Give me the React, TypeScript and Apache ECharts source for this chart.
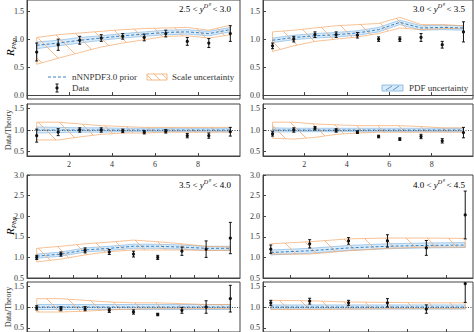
import { useEffect, useRef } from 'react';
import * as echarts from 'echarts';

// ---------- bins ----------
const xTop = [0.5, 1.5, 2.5, 3.5, 4.5, 5.5, 6.5, 7.5, 8.5, 9.5];
const xC = [0.5, 1.5, 2.5, 3.5, 4.5, 5.5, 6.5, 7.5, 8.5];
const xD = [0.5, 1.5, 2.5, 3.5, 4.5, 5.5];

// ---------- panel A: 2.5 < y < 3.0 ----------
const aData = [0.77, 0.9, 0.98, 1.02, 1.05, 1.03, 1.1, 0.96, 0.93, 1.1];
const aErr = [0.16, 0.1, 0.07, 0.06, 0.05, 0.06, 0.06, 0.07, 0.08, 0.14];
const aTh = [0.89, 0.93, 0.98, 1.02, 1.06, 1.09, 1.12, 1.13, 1.1, 1.17];
const aPdf = [0.06, 0.05, 0.05, 0.04, 0.04, 0.04, 0.04, 0.04, 0.04, 0.04];
const aUp = [1.03, 1.08, 1.11, 1.14, 1.17, 1.19, 1.2, 1.21, 1.16, 1.25];
const aDn = [0.55, 0.66, 0.76, 0.86, 0.93, 0.99, 1.05, 1.06, 1.02, 1.08];
const aRData = [0.87, 0.95, 1.0, 1.0, 0.98, 0.95, 0.97, 0.87, 0.87, 0.96];
const aRErr = [0.15, 0.08, 0.05, 0.05, 0.04, 0.04, 0.04, 0.05, 0.06, 0.1];
const aRUp = [1.18, 1.18, 1.14, 1.1, 1.08, 1.06, 1.06, 1.06, 1.06, 1.06];
const aRDn = [0.77, 0.77, 0.84, 0.9, 0.93, 0.93, 0.95, 0.95, 0.95, 0.95];
const aRPdf = [0.07, 0.06, 0.05, 0.05, 0.04, 0.04, 0.04, 0.04, 0.04, 0.04];

// ---------- panel B: 3.0 < y < 3.5 ----------
const bData = [0.88, 1.0, 1.08, 1.08, 1.07, 1.0, 1.0, 1.03, 0.9, 1.13];
const bErr = [0.05, 0.05, 0.05, 0.05, 0.05, 0.04, 0.04, 0.07, 0.06, 0.18];
const bTh = [0.98, 1.03, 1.06, 1.08, 1.11, 1.17, 1.3, 1.2, 1.21, 1.2];
const bPdf = [0.04, 0.04, 0.04, 0.04, 0.04, 0.04, 0.04, 0.04, 0.04, 0.04];
const bUp = [1.13, 1.16, 1.2, 1.24, 1.26, 1.28, 1.39, 1.26, 1.26, 1.24];
const bDn = [0.78, 0.88, 0.96, 1.0, 1.04, 1.1, 1.2, 1.17, 1.19, 1.19];
const bRData = [0.91, 1.0, 1.04, 0.99, 0.95, 0.85, 0.79, 0.85, 0.75, 0.94];
const bRErr = [0.05, 0.05, 0.04, 0.04, 0.03, 0.03, 0.03, 0.05, 0.05, 0.12];
const bRUp = [1.18, 1.18, 1.14, 1.12, 1.1, 1.1, 1.1, 1.08, 1.05, 1.05];
const bRDn = [0.81, 0.79, 0.83, 0.9, 0.93, 0.95, 0.95, 0.95, 0.95, 0.95];
const bRPdf = [0.05, 0.04, 0.04, 0.04, 0.04, 0.04, 0.04, 0.04, 0.04, 0.04];

// ---------- panel C: 3.5 < y < 4.0 ----------
const cData = [1.0, 1.08, 1.17, 1.13, 1.08, 1.0, 1.15, 1.2, 1.47];
const cErr = [0.05, 0.05, 0.06, 0.06, 0.07, 0.05, 0.1, 0.2, 0.38];
const cTh = [1.03, 1.08, 1.18, 1.22, 1.27, 1.27, 1.25, 1.22, 1.22];
const cPdf = [0.05, 0.05, 0.05, 0.05, 0.05, 0.05, 0.05, 0.05, 0.05];
const cUp = [1.22, 1.27, 1.33, 1.37, 1.42, 1.38, 1.33, 1.27, 1.25];
const cDn = [0.89, 0.96, 1.06, 1.14, 1.18, 1.18, 1.18, 1.17, 1.17];
const cRData = [0.98, 0.96, 0.96, 0.92, 0.88, 0.82, 0.92, 1.0, 1.2];
const cRErr = [0.05, 0.05, 0.05, 0.05, 0.05, 0.03, 0.07, 0.15, 0.32];
const cRUp = [1.2, 1.2, 1.16, 1.12, 1.1, 1.1, 1.08, 1.06, 1.06];
const cRDn = [0.88, 0.88, 0.9, 0.93, 0.95, 0.96, 0.96, 0.96, 0.96];
const cRPdf = [0.06, 0.06, 0.06, 0.06, 0.06, 0.06, 0.06, 0.06, 0.06];

// ---------- panel D: 4.0 < y < 4.5 ----------
const dData = [1.2, 1.33, 1.4, 1.4, 1.23, 2.03];
const dErr = [0.1, 0.1, 0.08, 0.15, 0.18, 0.58];
const dTh = [1.12, 1.16, 1.23, 1.27, 1.29, 1.3];
const dPdf = [0.06, 0.06, 0.06, 0.06, 0.06, 0.06];
const dUp = [1.33, 1.38, 1.45, 1.47, 1.47, 1.46];
const dDn = [1.08, 1.08, 1.16, 1.22, 1.25, 1.25];
const dRData = [1.1, 1.14, 1.1, 1.1, 0.95, 1.56];
const dRErr = [0.06, 0.07, 0.06, 0.1, 0.1, 0.45];
const dRUp = [1.16, 1.15, 1.12, 1.11, 1.1, 1.1];
const dRDn = [0.94, 0.94, 0.95, 0.96, 0.96, 0.96];
const dRPdf = [0.05, 0.05, 0.05, 0.05, 0.05, 0.05];

// ---------- labels / ticks ----------
const panelRanges = [
  ['2.5', '3.0'],
  ['3.0', '3.5'],
  ['3.5', '4.0'],
  ['4.0', '4.5'],
];
const legendNames = ['nNNPDF3.0 prior', 'Data', 'Scale uncertainty', 'PDF uncertainty'];
const yTicksTop = [0, 0.5, 1.0, 1.5];
const yTicksBottom = [0.5, 1.0, 1.5, 2.0, 2.5, 3.0];
const yTicksRatio = [0.5, 1.0, 1.5];
const xTicksTop = [2, 4, 6, 8];
const xTicksC = [1, 2, 3, 4, 5, 6, 7, 8];
const xTicksD = [1, 2, 3, 4, 5];

const FONT = 'Liberation Serif';
const TXT = '#333';
const ORANGE = '#f6b27a';
const ORANGE_EDGE = '#f4a868';
const BLUE = '#3a82c4';
const BLUEFILL = 'rgba(120,180,230,0.28)';
const BLUEEDGE = '#79b0e0';

function makeHatch(color: string, size: number, width: number) {
  const c = document.createElement('canvas');
  c.width = size;
  c.height = size;
  const g = c.getContext('2d')!;
  g.strokeStyle = color;
  g.lineWidth = width;
  g.beginPath();
  g.moveTo(-2, -2);
  g.lineTo(size + 2, size + 2);
  g.moveTo(-3, size - 3);
  g.lineTo(3, size + 3);
  g.moveTo(size - 3, -3);
  g.lineTo(size + 3, 3);
  g.stroke();
  return { image: c, repeat: 'repeat', imageWidth: size, imageHeight: size } as any;
}

export default function App() {
  const ref = useRef<HTMLDivElement>(null);

  useEffect(() => {
    if (!ref.current) return;
    const chart = echarts.init(ref.current, null, { renderer: 'svg' });
    const hatch = makeHatch(ORANGE, 21, 0.9);

    const grids = [
      { left: 27, top: -5, width: 213, height: 104 },
      { left: 27, top: 104, width: 213, height: 52 },
      { left: 263, top: -5, width: 210, height: 104 },
      { left: 263, top: 104, width: 210, height: 52 },
      { left: 27, top: 175, width: 213, height: 103 },
      { left: 27, top: 282, width: 213, height: 50 },
      { left: 263, top: 175, width: 210, height: 103 },
      { left: 263, top: 282, width: 210, height: 50 },
    ].map((g) => ({ ...g, show: true, borderColor: '#444', borderWidth: 1, backgroundColor: 'transparent' }));

    const yRanges: [number, number][] = [
      [-0.07, 1.7], [0.4, 1.6], [-0.07, 1.7], [0.4, 1.6],
      [0.5, 3.0], [0.4, 1.6], [0.5, 3.0], [0.4, 1.6],
    ];
    const xRanges: [number, number][] = [
      [0.05, 9.95], [0.05, 9.95], [0.05, 9.95], [0.05, 9.95],
      [0.1, 8.9], [0.1, 8.9], [0.3, 5.7], [0.3, 5.7],
    ];
    const xTickSets = [xTicksTop, xTicksTop, xTicksTop, xTicksTop, xTicksC, xTicksC, xTicksD, xTicksD];
    const yTickSets = [yTicksTop, yTicksRatio, yTicksTop, yTicksRatio, yTicksBottom, yTicksRatio, yTicksBottom, yTicksRatio];
    const showXLabel = [false, true, false, true, false, false, false, false];

    const xAxes = grids.map((_, i) => ({
      type: 'value', gridIndex: i, min: xRanges[i][0], max: xRanges[i][1],
      axisLine: { show: true, lineStyle: { color: '#444', width: 1 } },
      splitLine: { show: false },
      axisTick: { show: true, inside: true, length: 3, customValues: xTickSets[i], lineStyle: { color: '#444' } },
      axisLabel: { show: showXLabel[i], customValues: xTickSets[i], fontSize: 8, color: TXT, fontFamily: FONT, margin: 4 },
    }));
    const yAxes = grids.map((_, i) => ({
      type: 'value', gridIndex: i, min: yRanges[i][0], max: yRanges[i][1],
      axisLine: { show: true, lineStyle: { color: '#444', width: 1 } },
      splitLine: { show: false },
      axisTick: { show: true, inside: true, length: 3, customValues: yTickSets[i], lineStyle: { color: '#444' } },
      axisLabel: {
        show: true, customValues: yTickSets[i], fontSize: 8, color: TXT, fontFamily: FONT, margin: 3,
        formatter: (v: number) => v.toFixed(1),
      },
    }));

    const band = (gi: number, xs: number[], lo: number[], hi: number[], style: any, z: number) => ({
      type: 'custom', xAxisIndex: gi, yAxisIndex: gi, z, silent: true, clip: true,
      data: xs.map((x, i) => [x, lo[i], hi[i]]),
      encode: { x: 0, y: [1, 2] },
      renderItem: (params: any, api: any) => {
        if (params.dataIndex !== 0) return null;
        const top = xs.map((x, i) => api.coord([x, hi[i]]));
        const bot = xs.map((x, i) => api.coord([x, lo[i]])).reverse();
        return { type: 'polygon', shape: { points: top.concat(bot) }, style };
      },
    });

    const errBars = (gi: number, xs: number[], v: number[], e: number[]) => {
      const [yMin, yMax] = yRanges[gi];
      return {
        type: 'custom', xAxisIndex: gi, yAxisIndex: gi, z: 10, silent: true, clip: true,
        data: xs.map((x, i) => [x, v[i], e[i]]),
        encode: { x: 0, y: 1 },
        renderItem: (_p: any, api: any) => {
          const x = api.value(0), y = api.value(1), er = api.value(2);
          const c = api.coord([x, y]);
          const t = api.coord([x, Math.min(y + er, yMax)]);
          const b = api.coord([x, Math.max(y - er, yMin)]);
          const st = { stroke: '#111', lineWidth: 1 };
          const children: any[] = [
            { type: 'line', shape: { x1: c[0], y1: t[1], x2: c[0], y2: b[1] }, style: st },
          ];
          if (y + er <= yMax) children.push({ type: 'line', shape: { x1: c[0] - 1.5, y1: t[1], x2: c[0] + 1.5, y2: t[1] }, style: st });
          if (y - er >= yMin) children.push({ type: 'line', shape: { x1: c[0] - 1.5, y1: b[1], x2: c[0] + 1.5, y2: b[1] }, style: st });
          if (y <= yMax && y >= yMin) children.push({ type: 'circle', shape: { cx: c[0], cy: c[1], r: 1.6 }, style: { fill: '#111' } });
          return { type: 'group', children };
        },
      };
    };

    const central = (gi: number, xs: number[], v: number[], refLine: boolean) => ({
      type: 'line', xAxisIndex: gi, yAxisIndex: gi, z: 6, silent: true,
      data: xs.map((x, i) => [x, v[i]]),
      showSymbol: false, symbol: 'none',
      lineStyle: { color: BLUE, width: 1, type: [3, 2] },
      markLine: refLine
        ? {
            silent: true, symbol: ['none', 'none'], label: { show: false },
            lineStyle: { color: '#222', width: 0.8, type: [1, 1.5] },
            data: [{ yAxis: 1 }],
          }
        : undefined,
    });

    const pdfStyle = { fill: BLUEFILL, stroke: BLUEEDGE, lineWidth: 0.6 };
    const scaleStyle = { fill: hatch, stroke: ORANGE_EDGE, lineWidth: 0.7 };

    const series: any[] = [];
    const addMain = (gi: number, xs: number[], th: number[], pdf: number[], up: number[], dn: number[], d: number[], e: number[]) => {
      series.push(band(gi, xs, th.map((t, i) => t - pdf[i]), th.map((t, i) => t + pdf[i]), pdfStyle, 2));
      series.push(band(gi, xs, dn, up, scaleStyle, 4));
      series.push(central(gi, xs, th, false));
      series.push(errBars(gi, xs, d, e));
    };
    const addRatio = (gi: number, xs: number[], pdf: number[], up: number[], dn: number[], d: number[], e: number[]) => {
      series.push(band(gi, xs, pdf.map((p) => 1 - p), pdf.map((p) => 1 + p), pdfStyle, 2));
      series.push(band(gi, xs, dn, up, scaleStyle, 4));
      series.push(central(gi, xs, xs.map(() => 1), true));
      series.push(errBars(gi, xs, d, e));
    };

    addMain(0, xTop, aTh, aPdf, aUp, aDn, aData, aErr);
    addRatio(1, xTop, aRPdf, aRUp, aRDn, aRData, aRErr);
    addMain(2, xTop, bTh, bPdf, bUp, bDn, bData, bErr);
    addRatio(3, xTop, bRPdf, bRUp, bRDn, bRData, bRErr);
    addMain(4, xC, cTh, cPdf, cUp, cDn, cData, cErr);
    addRatio(5, xC, cRPdf, cRUp, cRDn, cRData, cRErr);
    addMain(6, xD, dTh, dPdf, dUp, dDn, dData, dErr);
    addRatio(7, xD, dRPdf, dRUp, dRDn, dRData, dRErr);

    const rich = {
      n: { fontSize: 9, fontFamily: FONT, color: TXT },
      i: { fontSize: 9, fontFamily: FONT, fontStyle: 'italic', color: TXT },
      s: { fontSize: 6, fontFamily: FONT, fontStyle: 'italic', color: TXT, verticalAlign: 'top', lineHeight: 12 },
    };
    const labelPos = [
      [231, 9], [465, 9], [231, 185], [465, 185],
    ];
    const graphics: any[] = panelRanges.map((r, k) => ({
      type: 'text', x: labelPos[k][0], y: labelPos[k][1], z: 20,
      style: {
        text: `{n|${r[0]} < }{i|y}{s|D⁰}{n| < ${r[1]}}`,
        rich, align: 'right', verticalAlign: 'middle',
      },
    }));

    // y-axis titles
    const yTitleRich = {
      r: { fontSize: 11, fontFamily: FONT, fontStyle: 'italic', color: TXT, lineHeight: 14 },
      p: { fontSize: 7, fontFamily: FONT, fontStyle: 'italic', color: TXT, verticalAlign: 'bottom', lineHeight: 14 },
    };
    [47, 226].forEach((yc) => {
      graphics.push({
        type: 'text', x: 10, y: yc, rotation: Math.PI / 2, z: 20,
        style: { text: '{r|R}{p|Pbp}', rich: yTitleRich, align: 'center', verticalAlign: 'middle' },
      });
    });
    [130, 307].forEach((yc) => {
      graphics.push({
        type: 'text', x: 8, y: yc, rotation: Math.PI / 2, z: 20,
        style: { text: 'Data/Theory', fontSize: 8, fontFamily: FONT, fill: TXT, align: 'center', verticalAlign: 'middle' },
      });
    });

    // legend (top-left panel)
    const lt = { fontSize: 9, fontFamily: FONT, fill: TXT, align: 'left', verticalAlign: 'middle' };
    graphics.push(
      { type: 'line', z: 20, shape: { x1: 48, y1: 77, x2: 68, y2: 77 }, style: { stroke: BLUE, lineWidth: 1, lineDash: [3, 2] } },
      { type: 'text', z: 20, x: 72, y: 77, style: { ...lt, text: legendNames[0] } },
      { type: 'line', z: 20, shape: { x1: 57, y1: 84, x2: 57, y2: 92 }, style: { stroke: '#111', lineWidth: 1 } },
      { type: 'line', z: 20, shape: { x1: 55.5, y1: 84, x2: 58.5, y2: 84 }, style: { stroke: '#111', lineWidth: 1 } },
      { type: 'line', z: 20, shape: { x1: 55.5, y1: 92, x2: 58.5, y2: 92 }, style: { stroke: '#111', lineWidth: 1 } },
      { type: 'circle', z: 20, shape: { cx: 57, cy: 88, r: 1.6 }, style: { fill: '#111' } },
      { type: 'text', z: 20, x: 72, y: 88, style: { ...lt, text: legendNames[1] } },
      { type: 'rect', z: 20, shape: { x: 147, y: 74, width: 20, height: 6 }, style: { fill: makeHatch(ORANGE, 8, 0.9), stroke: ORANGE_EDGE, lineWidth: 0.8 } },
      { type: 'text', z: 20, x: 172, y: 77, style: { ...lt, text: legendNames[2] } },
      { type: 'rect', z: 20, shape: { x: 382, y: 85, width: 21, height: 6 }, style: { fill: BLUEFILL, stroke: BLUEEDGE, lineWidth: 0.8 } },
      { type: 'line', z: 20, shape: { x1: 386, y1: 90, x2: 392, y2: 86 }, style: { stroke: BLUE, lineWidth: 0.8 } },
      { type: 'line', z: 20, shape: { x1: 393, y1: 90, x2: 399, y2: 86 }, style: { stroke: BLUE, lineWidth: 0.8 } },
      { type: 'text', z: 20, x: 409, y: 88, style: { ...lt, text: legendNames[3] } },
    );

    chart.setOption({
      animation: false,
      backgroundColor: '#fff',
      grid: grids,
      xAxis: xAxes,
      yAxis: yAxes,
      series,
      graphic: graphics,
    });
    return () => chart.dispose();
  }, []);

  return <div ref={ref} style={{ position: 'fixed', left: 0, top: 0, width: 474, height: 332 }} />;
}
